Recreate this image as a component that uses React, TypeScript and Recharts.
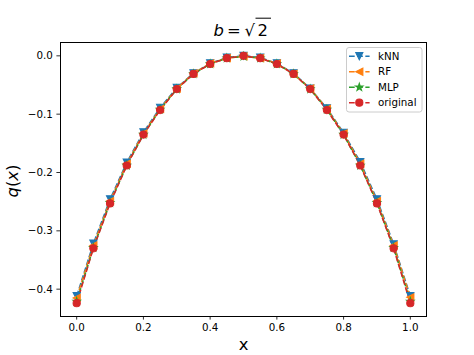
import React from "react";
import { LineChart, Line, XAxis, YAxis } from "recharts";

const xs = [0, 0.05, 0.1, 0.15, 0.2, 0.25, 0.3, 0.35, 0.4, 0.45, 0.5, 0.55, 0.6, 0.65, 0.7, 0.75, 0.8, 0.85, 0.9, 0.95, 1.0];
const knn = [-0.412, -0.322, -0.246, -0.183, -0.131, -0.089, -0.055, -0.030, -0.013, -0.003, 0.0, -0.003, -0.013, -0.030, -0.056, -0.090, -0.132, -0.182, -0.246, -0.323, -0.412];
const rf = [-0.415, -0.325, -0.249, -0.185, -0.133, -0.091, -0.056, -0.030, -0.013, -0.004, -0.001, -0.004, -0.013, -0.031, -0.056, -0.091, -0.133, -0.185, -0.249, -0.325, -0.414];
const mlp = [-0.421, -0.329, -0.252, -0.188, -0.135, -0.092, -0.057, -0.031, -0.014, -0.004, -0.001, -0.004, -0.014, -0.031, -0.057, -0.092, -0.135, -0.188, -0.252, -0.329, -0.421];
const original = [-0.424, -0.330, -0.253, -0.188, -0.135, -0.093, -0.057, -0.031, -0.014, -0.004, 0.0, -0.004, -0.014, -0.031, -0.057, -0.093, -0.135, -0.188, -0.253, -0.330, -0.424];

const xTicks = [0, 0.2, 0.4, 0.6, 0.8, 1.0];
const yTicks = [0, -0.1, -0.2, -0.3, -0.4];

const data = xs.map((x, i) => ({ x, knn: knn[i], rf: rf[i], mlp: mlp[i], original: original[i] }));

const FONT = "DejaVu Sans";
const R = 3.6;
const EW = 1.03;

type MarkerKind = "v" | "<" | "*" | "o";

function Marker({ kind, cx, cy, color }: { kind: MarkerKind; cx: number; cy: number; color: string }) {
  if (cx == null || cy == null || isNaN(cx) || isNaN(cy)) return null;
  if (kind === "o") {
    return <circle cx={cx} cy={cy} r={R} fill={color} stroke={color} strokeWidth={EW} />;
  }
  if (kind === "v") {
    const pts = `${cx - R},${cy - R} ${cx + R},${cy - R} ${cx},${cy + R}`;
    return <polygon points={pts} fill={color} stroke={color} strokeWidth={EW} strokeLinejoin="miter" />;
  }
  if (kind === "<") {
    const pts = `${cx - R},${cy} ${cx + R},${cy - R} ${cx + R},${cy + R}`;
    return <polygon points={pts} fill={color} stroke={color} strokeWidth={EW} strokeLinejoin="miter" />;
  }
  const p: string[] = [];
  for (let i = 0; i < 10; i++) {
    const a = (2 * Math.PI * i) / 10 + Math.PI / 2;
    const r = i % 2 === 0 ? R * 1.1 : R * 1.1 * 0.381966;
    p.push(`${cx + r * Math.cos(a)},${cy - r * Math.sin(a)}`);
  }
  return <polygon points={p.join(" ")} fill={color} stroke={color} strokeWidth={EW} strokeLinejoin="miter" />;
}

const series: { key: string; name: string; color: string; marker: MarkerKind }[] = [
  { key: "knn", name: "kNN", color: "#1f77b4", marker: "v" },
  { key: "rf", name: "RF", color: "#ff7f0e", marker: "<" },
  { key: "mlp", name: "MLP", color: "#2ca02c", marker: "*" },
  { key: "original", name: "original", color: "#d62728", marker: "o" },
];

const DASH = "5.7 2.47";

const fmtY = (v: number) => (Math.abs(v) < 1e-9 ? "0.0" : (v < 0 ? "\u2212" : "") + Math.abs(v).toFixed(1));
const fmtX = (v: number) => v.toFixed(1);

export default function App() {
  const tickStyle = { fill: "#000", fontSize: 10.3, fontFamily: FONT };
  return (
    <div style={{ position: "absolute", left: 0, top: 0, width: 474, height: 355, background: "#fff" }}>
      <LineChart width={474} height={355} data={data} margin={{ top: 43, right: 47, bottom: 0, left: 0 }}>
        <XAxis
          dataKey="x"
          type="number"
          domain={[-0.05, 1.05]}
          ticks={xTicks}
          tickFormatter={fmtX}
          allowDataOverflow
          height={39}
          axisLine={false}
          tickLine={{ stroke: "#000", strokeWidth: 0.82 }}
          tickSize={3.6}
          tickMargin={3.6}
          tick={tickStyle}
        />
        <YAxis
          type="number"
          domain={[-0.446, 0.022]}
          ticks={yTicks}
          tickFormatter={fmtY}
          allowDataOverflow
          width={60}
          axisLine={false}
          tickLine={{ stroke: "#000", strokeWidth: 0.82 }}
          tickSize={3.6}
          tickMargin={3.6}
          tick={tickStyle}
        />
        {series.map((s) => (
          <Line
            key={s.key}
            dataKey={s.key}
            name={s.name}
            type="linear"
            stroke={s.color}
            strokeWidth={1.54}
            strokeDasharray={DASH}
            isAnimationActive={false}
            activeDot={false}
            dot={(props: any) => (
              <Marker key={`${s.key}-${props.index}`} kind={s.marker} cx={props.cx} cy={props.cy} color={s.color} />
            )}
          />
        ))}
      </LineChart>
      <div
        style={{
          position: "absolute",
          left: 60,
          top: 42,
          width: 367,
          height: 275,
          boxSizing: "border-box",
          border: "1px solid #000",
          pointerEvents: "none",
        }}
      />
      <svg
        width={474}
        height={355}
        style={{ position: "absolute", left: 0, top: 0, pointerEvents: "none" }}
        fontFamily={FONT}
      >
        {/* title */}
        <text x={213.5} y={36} fontSize={16.4} fontStyle="italic" fill="#000">b</text>
        <text x={227} y={36} fontSize={16.4} fill="#000">=</text>
        <text x={244.5} y={36} fontSize={16.4} fill="#000">√</text>
        <text x={257.5} y={36} fontSize={16.4} fill="#000">2</text>
        <line x1={255.5} x2={271} y1={18.2} y2={18.2} stroke="#000" strokeWidth={1} />
        {/* y label */}
        <text transform="translate(18,181) rotate(-90)" textAnchor="middle" fontSize={16.4} fill="#000">
          <tspan fontStyle="italic">q</tspan>
          <tspan>(</tspan>
          <tspan fontStyle="italic">x</tspan>
          <tspan>)</tspan>
        </text>
        {/* x label */}
        <text x={243.5} y={349.5} textAnchor="middle" fontSize={16.4} fill="#000">x</text>
        {/* legend */}
        <rect x={346.5} y={47.5} width={75.5} height={64.5} rx={2.5} fill="#fff" fillOpacity={0.8} stroke="#cccccc" strokeWidth={1} />
        {series.map((s, i) => {
          const y = 56.2 + i * 15.5;
          return (
            <g key={s.key}>
              <line x1={349} x2={369.6} y1={y} y2={y} stroke={s.color} strokeWidth={1.54} strokeDasharray={DASH} />
              <Marker kind={s.marker} cx={359.3} cy={y} color={s.color} />
              <text x={378} y={y + 3.7} fontSize={10.3} fill="#000">{s.name}</text>
            </g>
          );
        })}
      </svg>
    </div>
  );
}
